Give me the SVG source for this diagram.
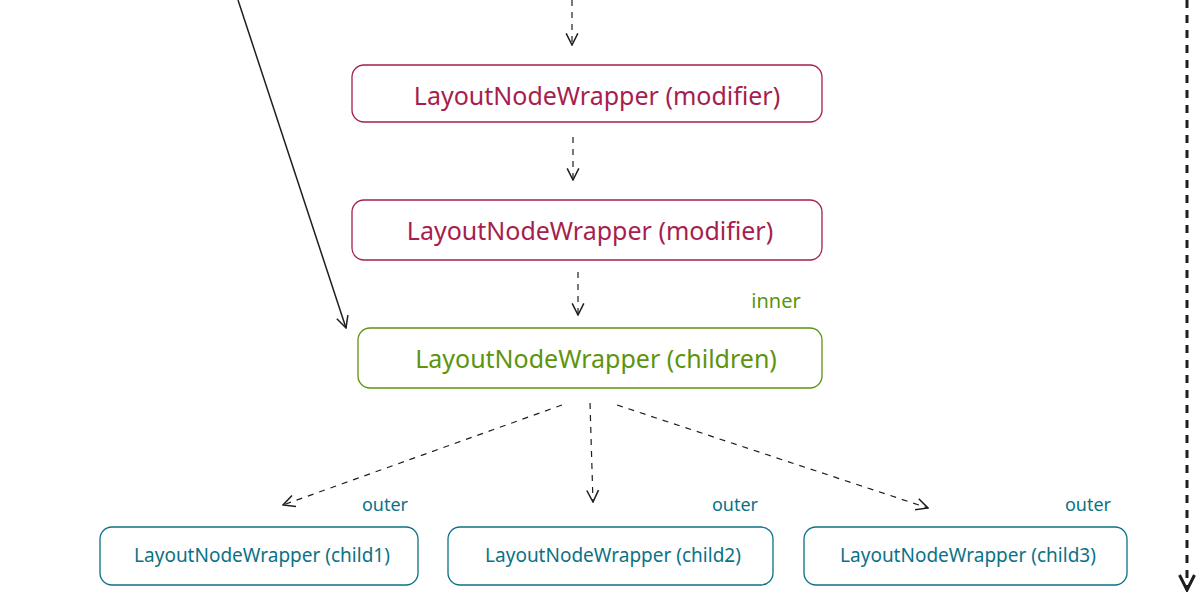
<svg xmlns="http://www.w3.org/2000/svg" width="1200" height="600" viewBox="0 0 1200 600">
<defs>
<style>
.t{font-family:"Noto Sans",sans-serif;text-anchor:middle;dominant-baseline:central}
.m{fill:#a61e4d}.g{fill:#5c940d}.c{fill:#0b7285}
.bx{fill:none;stroke-width:1.3}
.d{fill:none;stroke:#1e1e1e;stroke-width:1.2;stroke-dasharray:6 6}
</style>
<marker id="a" viewBox="0 0 12 12" refX="11" refY="6" markerWidth="14" markerHeight="14" orient="auto" markerUnits="userSpaceOnUse"><path d="M1 1 L11 6 L1 11" fill="none" stroke="#1e1e1e" stroke-width="1.3"/></marker>
<marker id="b" viewBox="0 0 12 12" refX="11" refY="6" markerWidth="18" markerHeight="18" orient="auto" markerUnits="userSpaceOnUse"><path d="M1 1 L11 6 L1 11" fill="none" stroke="#1e1e1e" stroke-width="2"/></marker>
</defs>
<rect width="1200" height="600" fill="#fff"/>
<g id="connectors">
<line class="d" x1="572" y1="0" x2="572" y2="45" marker-end="url(#a)"/>
<line class="d" x1="573" y1="137" x2="573" y2="180" marker-end="url(#a)"/>
<line class="d" x1="578" y1="272" x2="578" y2="315" marker-end="url(#a)"/>
<line x1="238" y1="0" x2="346" y2="328" stroke="#1e1e1e" stroke-width="1.5" marker-end="url(#a)"/>
<line class="d" x1="562" y1="405" x2="283" y2="505" marker-end="url(#a)"/>
<line class="d" x1="590" y1="403" x2="593" y2="502" marker-end="url(#a)"/>
<line class="d" x1="617" y1="405" x2="928" y2="508" marker-end="url(#a)"/>
<line x1="1187" y1="0" x2="1187" y2="590" stroke="#1e1e1e" stroke-width="3" stroke-dasharray="8 7" marker-end="url(#b)"/>
</g>
<g id="n1"><rect class="bx" x="352" y="65" width="470" height="57" rx="12" stroke="#a61e4d"/><text class="t m" x="597" y="95" font-size="25">LayoutNodeWrapper (modifier)</text></g>
<g id="n2"><rect class="bx" x="352" y="200" width="470" height="60" rx="12" stroke="#a61e4d"/><text class="t m" x="590" y="230" font-size="25">LayoutNodeWrapper (modifier)</text></g>
<g id="n3"><rect class="bx" x="358" y="328" width="464" height="60" rx="12" stroke="#5c940d"/><text class="t g" x="596" y="358" font-size="25">LayoutNodeWrapper (children)</text><text class="t g" x="776" y="300" font-size="20">inner</text></g>
<g id="c1"><rect class="bx" x="100" y="527" width="318" height="58" rx="12" stroke="#0b7285"/><text class="t c" x="262" y="555" font-size="19">LayoutNodeWrapper (child1)</text><text class="t c" x="385" y="504" font-size="18">outer</text></g>
<g id="c2"><rect class="bx" x="448" y="527" width="325" height="58" rx="12" stroke="#0b7285"/><text class="t c" x="613" y="555" font-size="19">LayoutNodeWrapper (child2)</text><text class="t c" x="735" y="504" font-size="18">outer</text></g>
<g id="c3"><rect class="bx" x="804" y="527" width="323" height="58" rx="12" stroke="#0b7285"/><text class="t c" x="968" y="555" font-size="19">LayoutNodeWrapper (child3)</text><text class="t c" x="1088" y="504" font-size="18">outer</text></g>
</svg>
